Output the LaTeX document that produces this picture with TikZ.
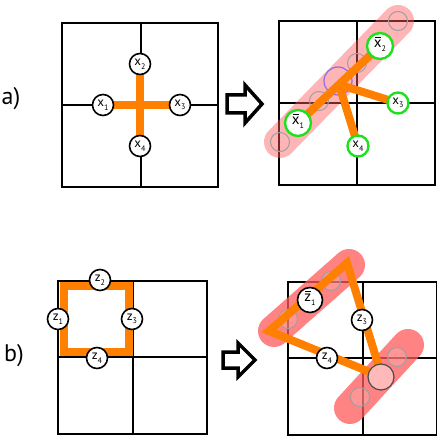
\documentclass[tikz,border=0pt]{standalone}
\usepackage{fontspec}
\setmainfont{PT Sans}
\usetikzlibrary{backgrounds, calc}

\definecolor{hitgreen}{RGB}{30,225,30}
\definecolor{bandred}{RGB}{255,90,90}
\definecolor{pairviolet}{RGB}{140,110,230}
\newcommand{\barred}[1]{{\ooalign{#1\cr\hidewidth\rule[1.3ex]{0.36em}{0.07em}\hidewidth\cr}}}
\newcommand{\idx}[1]{\raisebox{-0.55ex}{\fontsize{8}{8}\selectfont #1}}

\begin{document}
\begin{tikzpicture}[x=1pt, y=-1pt,
        cellline/.style={line width=1.8pt},
        link/.style={draw=orange, line width=8pt, line join=miter},
        pnode/.style={circle, draw, line width=1.6pt, fill=white, minimum size=21pt, inner sep=0pt, font=\fontsize{13}{13}\selectfont},
        gnode/.style={pnode, draw=hitgreen, line width=2.4pt},
        bignode/.style={minimum size=26pt, font=\fontsize{15}{15}\selectfont},
        lbl/.style={font=\fontsize{24}{24}\selectfont, inner sep=0pt},
        band/.style={line cap=round, line width=32pt, draw=bandred},
        ghost/.style={circle, draw=gray!75, line width=1pt, minimum size=19pt, inner sep=0pt},
        hollow/.style={draw, line width=3.5pt, fill=white, line join=miter}
    ]
    \useasboundingbox (0,0) rectangle (437,436);

    % --- a) left: cross ---
    \node [lbl] (la) at (11,99) {a)};
    \node [pnode] (a1) at (103,105) {x\idx{1}};
    \node [pnode] (a2) at (140,64) {x\idx{2}};
    \node [pnode] (a3) at (180,105) {x\idx{3}};
    \node [pnode] (a4) at (140,146) {x\idx{4}};

    \draw [hollow] (227,95) -- (245,95) -- (245,85) -- (262,104) -- (245,123) -- (245,113) -- (227,113) -- cycle;

    % --- a) right: merged pair ---
    \node [gnode, bignode] (c1) at (298,123) {\barred{x}\idx{1}};
    \node [gnode, bignode] (c2) at (380,46) {\barred{x}\idx{2}};
    \node [gnode] (c3) at (398,103) {x\idx{3}};
    \node [gnode] (c4) at (358,146) {x\idx{4}};
    \coordinate (hub) at ($(c1)!0.5!(c2)$);

    \begin{scope}[on background layer]
        \draw [cellline] (62,23) rectangle (218,187) (141,23) -- (141,187) (62,105) -- (218,105);
        \draw [link] (a1.center) -- (a3.center) (a2.center) -- (a4.center);

        \draw [cellline] (279,21) rectangle (435,185) (357,21) -- (357,185) (279,103) -- (435,103);
        \draw [band, draw opacity=0.45] (280,142) -- (398,21);
        \foreach \p in {(280,142), (319,101), (357,63), (398,21)}
            \node [ghost] at \p {};
        \node [circle, draw=pairviolet, line width=1.2pt, minimum size=28pt] (pv) at (338,81) {};
        \draw [link] (c1.center) -- (c2.center) (hub) -- (c3.center) (hub) -- (c4.center);
    \end{scope}

    % --- b) left: ring ---
    \node [lbl] (lb) at (14,356) {b)};
    \node [pnode] (z1) at (58,319) {z\idx{1}};
    \node [pnode] (z2) at (100,280) {z\idx{2}};
    \node [pnode] (z3) at (132,319) {z\idx{3}};
    \node [pnode] (z4) at (97,358) {z\idx{4}};

    \draw [hollow] (223,352) -- (238,352) -- (238,343) -- (255,360) -- (238,377) -- (238,368) -- (223,368) -- cycle;

    % --- b) right: folded ring ---
    \coordinate (ta) at (269,331);
    \coordinate (tb) at (347,263);
    \coordinate (tc) at (382,377);
    \node [pnode, bignode, minimum size=25pt] (w1) at (310,300) {\barred{z}\idx{1}};
    \node [pnode] (w3) at (362,320) {z\idx{3}};
    \node [pnode] (w4) at (327,358) {z\idx{4}};
    \node [circle, draw=gray!60!black, line width=1.2pt, fill={rgb,255:red,255;green,185;blue,185}, minimum size=26pt] (w0) at (381,377) {};

    \begin{scope}[on background layer]
        \draw [cellline] (58,281) rectangle (207,434) (133,281) -- (133,434) (58,357) -- (207,357);
        \draw [link] (63.5,285.5) rectangle (128.5,351.5);

        \draw [cellline] (288,282) rectangle (436.5,435) (363,282) -- (363,435) (288,358) -- (436.5,358);
        \draw [band, draw opacity=0.75] (274,331) -- (349,265);
        \draw [band, draw opacity=0.75] (350,408) -- (408,345);
        \foreach \p in {(288,319), (331,281), (360,397), (397,357)}
            \node [ghost, fill=white, fill opacity=0.15] at \p {};
        \draw [link] (ta) -- (tb) -- (tc) -- cycle;
    \end{scope}

\end{tikzpicture}
\end{document}
